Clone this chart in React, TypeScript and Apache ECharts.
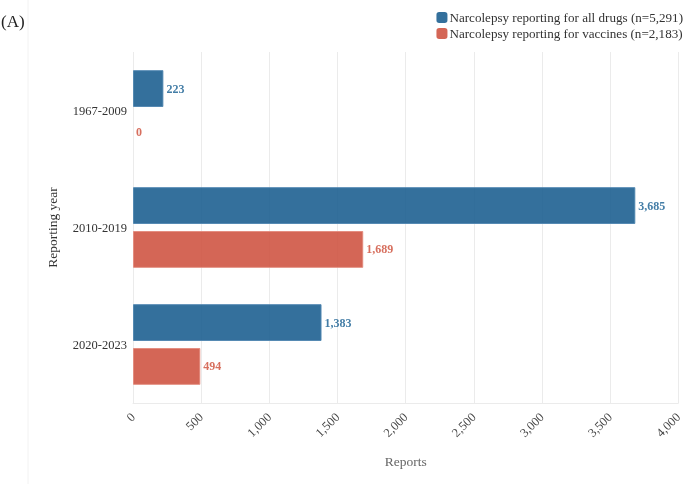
import { useEffect, useRef } from 'react';
import * as echarts from 'echarts';

const periods = ['1967-2009', '2010-2019', '2020-2023'];
const allDrugs = [223, 3685, 1383];
const vaccines = [0, 1689, 494];
const seriesNames = [
  'Narcolepsy reporting for all drugs (n=5,291)',
  'Narcolepsy reporting for vaccines (n=2,183)',
];
const xTicks = [0, 500, 1000, 1500, 2000, 2500, 3000, 3500, 4000];

const FONT = '"Liberation Serif", "DejaVu Serif", serif';
const BLUE = '#1e6191';
const RED = '#cf5544';

export default function App() {
  const chartRef = useRef<HTMLDivElement>(null);

  useEffect(() => {
    if (!chartRef.current) return;
    const chart = echarts.init(chartRef.current, null, { renderer: 'svg' });

    const fmt = (v: number) => v.toLocaleString('en-US');

    // zero-length bars get no border, otherwise a stray line shows at 0
    const bars = (values: number[], border: string) =>
      values.map((v) => ({
        value: v,
        itemStyle: { borderColor: border, borderWidth: v === 0 ? 0 : 1 },
      }));

    const valueLabel = (color: string) => ({
      show: true,
      position: 'right',
      distance: 3,
      fontFamily: FONT,
      fontSize: 12,
      fontWeight: 'bold',
      color,
      formatter: (p: any) => fmt(p.value),
    });

    const option = {
      animation: false,
      textStyle: { fontFamily: FONT },
      title: {
        text: '(A)',
        left: 1,
        top: 13,
        padding: 0,
        textStyle: { fontFamily: FONT, fontSize: 17, fontWeight: 'normal', color: '#222' },
      },
      legend: {
        data: seriesNames,
        orient: 'vertical',
        right: -3,
        top: 6,
        itemWidth: 11,
        itemHeight: 11,
        itemGap: 3,
        icon: 'roundRect',
        textStyle: { fontFamily: FONT, fontSize: 13.1, color: '#333', padding: [0, 0, 0, -3] },
      },
      graphic: [
        {
          type: 'line',
          shape: { x1: 28, y1: 0, x2: 28, y2: 484 },
          style: { stroke: '#f2f2f2', lineWidth: 1 },
        },
      ],
      grid: { left: 133, right: 5, top: 52, bottom: 81 },
      xAxis: {
        type: 'value',
        min: 0,
        max: xTicks[xTicks.length - 1],
        interval: 500,
        name: 'Reports',
        nameLocation: 'middle',
        nameGap: 51,
        nameTextStyle: { fontFamily: FONT, fontSize: 13.5, color: '#666' },
        axisLine: { show: true, lineStyle: { color: '#ebebeb' } },
        axisTick: { show: false },
        axisLabel: {
          rotate: 45,
          margin: 12,
          fontFamily: FONT,
          fontSize: 12.5,
          color: '#444',
          formatter: (v: number) => fmt(v),
        },
        splitLine: { show: true, lineStyle: { color: '#ebebeb' } },
      },
      yAxis: {
        type: 'category',
        data: periods,
        inverse: true,
        name: 'Reporting year',
        nameLocation: 'middle',
        nameRotate: 90,
        nameGap: 74,
        nameTextStyle: { fontFamily: FONT, fontSize: 13.5, color: '#333' },
        axisLine: { show: false },
        axisTick: { show: false },
        axisLabel: { fontFamily: FONT, fontSize: 12.5, color: '#333', margin: 6 },
        splitLine: { show: false },
      },
      series: [
        {
          name: seriesNames[0],
          type: 'bar',
          data: bars(allDrugs, '#4f86b0'),
          barCategoryGap: '31%',
          barGap: '19%',
          itemStyle: { color: BLUE, opacity: 0.9 },
          label: valueLabel('#2f6f9c'),
        },
        {
          name: seriesNames[1],
          type: 'bar',
          data: bars(vaccines, '#e38b7c'),
          barCategoryGap: '31%',
          barGap: '19%',
          itemStyle: { color: RED, opacity: 0.9 },
          label: valueLabel('#d35f4c'),
        },
      ],
    };

    chart.setOption(option);
    return () => chart.dispose();
  }, []);

  return (
    <div
      ref={chartRef}
      style={{ position: 'fixed', left: 0, top: 0, width: 685, height: 484 }}
    />
  );
}
